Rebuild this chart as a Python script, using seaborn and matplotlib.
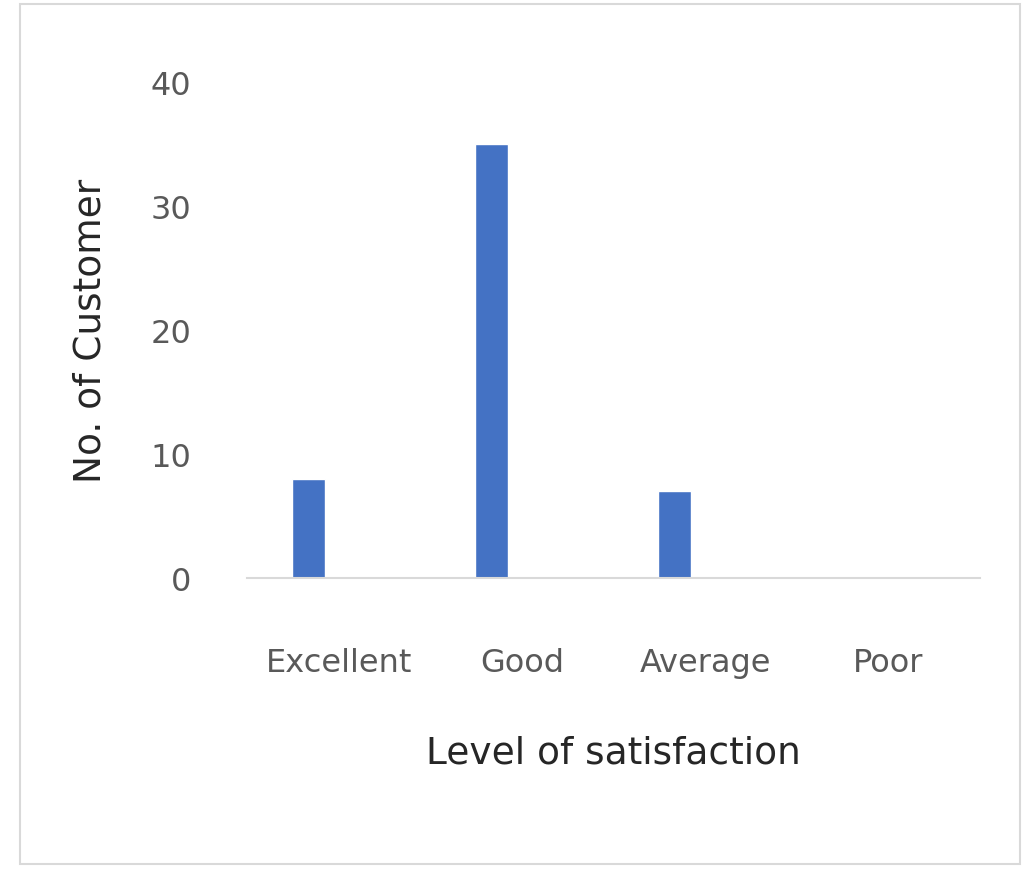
import matplotlib
matplotlib.use("Agg")
import matplotlib.pyplot as plt
import seaborn as sns
import pandas as pd

categories = ["Excellent", "Good", "Average", "Poor"]
customers = [8, 35, 7, 0]
y_ticks = [0, 10, 20, 30, 40]

sns.set_style("white")
plt.rcParams['font.family'] = ['Liberation Sans Narrow', 'DejaVu Sans']

df = pd.DataFrame({"Level": categories, "Count": customers})
fig = plt.figure(figsize=(10.36, 8.70), dpi=100)
ax = fig.add_axes([247/1036, 1-579/870, 733/1036, (579-83)/870])
sns.barplot(data=df, x="Level", y="Count", color="#4472C4", width=0.18,
            saturation=1, ax=ax)
for p in ax.patches:
    p.set_x(p.get_x() - 0.165)

ax.set_ylim(0, 40)
ax.set_yticks(y_ticks)
ax.tick_params(axis='both', length=0, labelsize=23, colors="#595959")
ax.tick_params(axis='y', pad=40)
ax.tick_params(axis='x', pad=50)
for s in ["top", "right", "left"]:
    ax.spines[s].set_visible(False)
ax.spines["bottom"].set_color("#D9D9D9")
ax.spines["bottom"].set_linewidth(1.5)
ax.set_xlabel("Level of satisfaction", fontsize=27, color="#262626", labelpad=40)
ax.set_ylabel("No. of Customer", fontsize=27, color="#262626", labelpad=30)

fig.patches.append(plt.Rectangle((20/1036, 5/870), 1000/1036, 860/870,
                                 transform=fig.transFigure, fill=False,
                                 edgecolor="#D9D9D9", linewidth=1.5))
fig.savefig("out.png", dpi=100)
